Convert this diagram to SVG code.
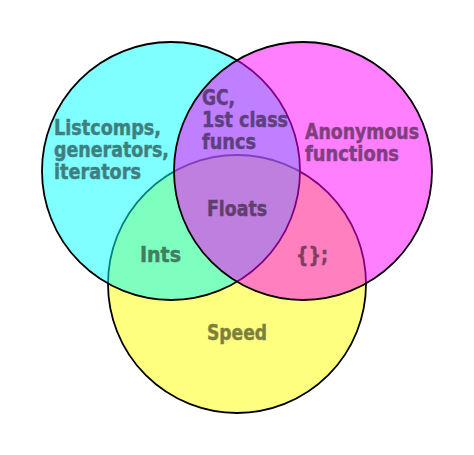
<svg xmlns="http://www.w3.org/2000/svg" width="474" height="455" viewBox="0 0 474 455">
<style>
.set{stroke:#000;stroke-width:1.8;fill-opacity:0.5}
.lbl{font-family:"DejaVu Sans Condensed","DejaVu Sans","Liberation Sans",sans-serif;font-weight:bold;font-size:21px;fill:#000;stroke:#000;stroke-width:0.5;opacity:0.5}
</style>
<rect width="474" height="455" fill="#fff"/>
<g id="yellow-set"><circle class="set" cx="237" cy="284" r="129" fill="#FFFF00"/></g>
<g id="cyan-set"><circle class="set" cx="171" cy="171" r="129" fill="#00FFFF"/></g>
<g id="magenta-set"><circle class="set" cx="303" cy="171" r="129" fill="#FF00FF"/></g>
<g id="labels">
<g id="cyan-only"><text class="lbl" x="54" y="135" textLength="107" lengthAdjust="spacingAndGlyphs">Listcomps,</text><text class="lbl" x="54" y="157" textLength="115" lengthAdjust="spacingAndGlyphs">generators,</text><text class="lbl" x="54" y="179" textLength="87" lengthAdjust="spacingAndGlyphs">iterators</text></g>
<g id="cyan-magenta"><text class="lbl" x="202" y="105" textLength="33" lengthAdjust="spacingAndGlyphs">GC,</text><text class="lbl" x="202" y="127" textLength="86" lengthAdjust="spacingAndGlyphs">1st class</text><text class="lbl" x="202" y="149" textLength="54" lengthAdjust="spacingAndGlyphs">funcs</text></g>
<g id="magenta-only"><text class="lbl" x="305" y="139" textLength="114" lengthAdjust="spacingAndGlyphs">Anonymous</text><text class="lbl" x="305" y="161" textLength="94" lengthAdjust="spacingAndGlyphs">functions</text></g>
<g id="all-three"><text class="lbl" x="207" y="216" textLength="60" lengthAdjust="spacingAndGlyphs">Floats</text></g>
<g id="cyan-yellow"><text class="lbl" x="140" y="262" textLength="41" lengthAdjust="spacingAndGlyphs">Ints</text></g>
<g id="magenta-yellow"><text class="lbl" x="296" y="262" textLength="32" lengthAdjust="spacingAndGlyphs">{};</text></g>
<g id="yellow-only"><text class="lbl" x="207" y="340" textLength="60" lengthAdjust="spacingAndGlyphs">Speed</text></g>
</g>
</svg>
